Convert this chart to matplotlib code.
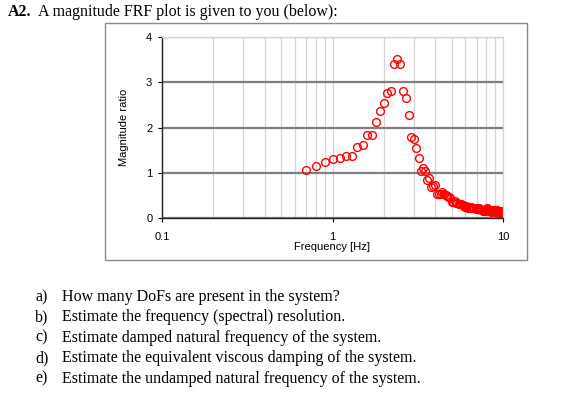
"""
FRF magnitude plot with the exercise text around it.
"""

import numpy as np
from matplotlib import pyplot as plt
from matplotlib import patches
from matplotlib.ticker import FixedLocator, NullFormatter

# frequencies (Hz), 0.1 Hz spacing
freq = [0.7, 0.8, 0.9, 1.0, 1.1, 1.2, 1.3, 1.4, 1.5, 1.6,
        1.7, 1.8, 1.9, 2.0, 2.1, 2.2, 2.3, 2.4, 2.5, 2.6,
        2.7, 2.8, 2.9, 3.0, 3.1, 3.2, 3.3, 3.4, 3.5, 3.6,
        3.7, 3.8, 3.9, 4.0, 4.1, 4.2, 4.3, 4.4, 4.5, 4.6,
        4.7, 4.8, 4.9, 5.0, 5.1, 5.2, 5.3, 5.4, 5.5, 5.6,
        5.7, 5.8, 5.9, 6.0, 6.1, 6.2, 6.3, 6.4, 6.5, 6.6,
        6.7, 6.8, 6.9, 7.0, 7.1, 7.2, 7.3, 7.4, 7.5, 7.6,
        7.7, 7.8, 7.9, 8.0, 8.1, 8.2, 8.3, 8.4, 8.5, 8.6,
        8.7, 8.8, 8.9, 9.0, 9.1, 9.2, 9.3, 9.4, 9.5, 9.6,
        9.7, 9.8, 9.9, 10.0]

magnitude = [1.05, 1.15, 1.24, 1.31, 1.33, 1.38, 1.36, 1.56, 1.61, 1.84,
             1.84, 2.12, 2.36, 2.54, 2.76, 2.81, 3.40, 3.51, 3.40, 2.80,
             2.65, 2.27, 1.78, 1.75, 1.55, 1.33, 1.04, 1.11, 1.04, 0.85,
             0.88, 0.69, 0.70, 0.72, 0.52, 0.52, 0.54, 0.57, 0.53, 0.50,
             0.48, 0.46, 0.44, 0.36, 0.35, 0.37, 0.33, 0.34, 0.32, 0.31,
             0.30, 0.29, 0.27, 0.25, 0.26, 0.23, 0.24, 0.22, 0.24, 0.22,
             0.21, 0.23, 0.20, 0.22, 0.20, 0.21, 0.19, 0.17, 0.18, 0.16,
             0.15, 0.17, 0.18, 0.16, 0.21, 0.19, 0.15, 0.17, 0.14, 0.16,
             0.18, 0.15, 0.17, 0.13, 0.16, 0.18, 0.14, 0.15, 0.12, 0.14,
             0.13, 0.15, 0.12, 0.14]

questions = [
    ('a)', 'How many DoFs are present in the system?'),
    ('b)', 'Estimate the frequency (spectral) resolution.'),
    ('c)', 'Estimate damped natural frequency of the system.'),
    ('d)', 'Estimate the equivalent viscous damping of the system.'),
    ('e)', 'Estimate the undamped natural frequency of the system.'),
]


def main():
    W, H = 565, 394
    fig = plt.figure(figsize=(W / 100, H / 100), dpi=100)
    serif = 'Liberation Serif'
    fs = 11.5

    # heading
    fig.text(8 / W, 1 - 12 / H, 'A2.', family=serif, fontsize=fs, weight='bold', va='center')
    fig.text(38 / W, 1 - 12 / H, 'A magnitude FRF plot is given to you (below):',
             family=serif, fontsize=fs, va='center')

    # frame around the chart
    fig.patches.append(patches.Rectangle((105 / W, 1 - 260 / H), 422 / W, 237 / H,
                                         transform=fig.transFigure, fill=False,
                                         edgecolor='#8a8a8a', linewidth=1))

    ax = fig.add_axes([162 / W, 1 - 218 / H, 341 / W, 181 / H])
    ax.set_xscale('log')
    ax.set_xlim(0.1, 10)
    ax.set_ylim(0, 4)

    ax.xaxis.set_minor_locator(FixedLocator([0.2, 0.3, 0.4, 0.5, 0.6, 0.7, 0.8, 0.9,
                                             2, 3, 4, 5, 6, 7, 8, 9]))
    ax.xaxis.set_minor_formatter(NullFormatter())
    ax.set_xticks([0.1, 1, 10], ['0.1', '1', '10'])
    ax.set_yticks([0, 1, 2, 3, 4])

    ax.grid(True, which='both', axis='x', color='#d4d4d4', linewidth=0.9)
    ax.grid(True, which='major', axis='y', color='#7f7f7f', linewidth=1.6)
    ax.set_axisbelow(True)

    for side in ['top', 'right']:
        ax.spines[side].set_color('#d4d4d4')
        ax.spines[side].set_linewidth(0.9)
    for side in ['left', 'bottom']:
        ax.spines[side].set_color('#222222')
        ax.spines[side].set_linewidth(1.0)

    ax.tick_params(axis='both', which='major', labelsize=8, length=3, width=0.8,
                   direction='out', pad=4)
    ax.tick_params(axis='x', which='major', pad=7)
    ax.tick_params(axis='x', which='minor', length=0)
    for lab in ax.get_xticklabels() + ax.get_yticklabels():
        lab.set_family('Liberation Sans')

    ax.plot(freq, magnitude, linestyle='none', marker='o', markersize=5.6,
            markerfacecolor='none', markeredgecolor='#ff0000', markeredgewidth=1.0)

    ax.set_xlabel('Frequency [Hz]', family='Liberation Sans', fontsize=8, labelpad=0)
    ax.set_ylabel('Magnitude ratio', family='Liberation Sans', fontsize=8, labelpad=12)

    # questions below the chart
    for i, (tag, text) in enumerate(questions):
        y = 1 - (297 + i * 20.4) / H
        fig.text(35 / W, y, tag, family=serif, fontsize=fs, va='center')
        fig.text(62 / W, y, text, family=serif, fontsize=fs, va='center')

    fig.savefig('out.png', dpi=100)


if __name__ == '__main__':
    main()
